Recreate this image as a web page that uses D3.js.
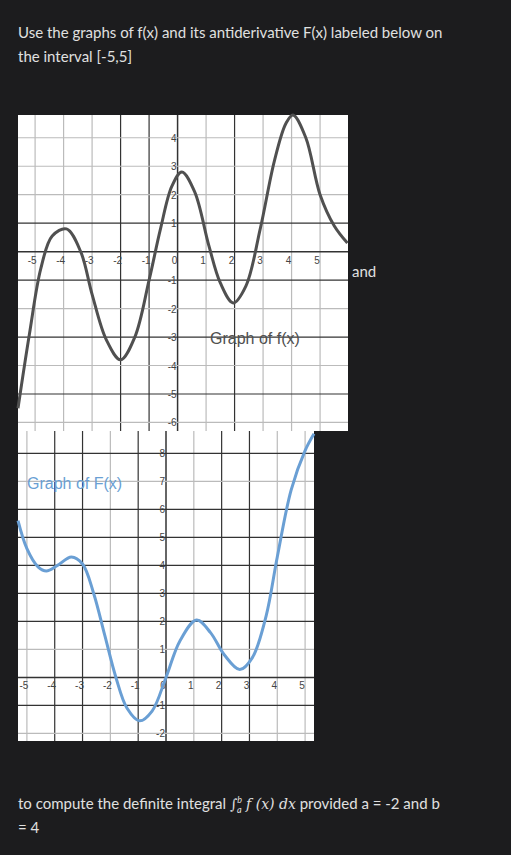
<!DOCTYPE html>
<html><head><meta charset="utf-8">
<script src="https://cdn.jsdelivr.net/npm/d3@7"></script>
<style>
body{margin:0;background:#1c1c1e;}
.t{font-family:Lato,"Open Sans",sans-serif;font-size:15px;fill:#e0e0e0;}
</style></head><body>
<script>
const fPoints=[[-5.6,-5.5],[-5.2,-2.9],[-4.8,-0.6],[-4.4,0.55],[-3.9,0.8],[-3.4,0.0],[-3.0,-1.5],[-2.5,-3.1],[-2.0,-3.8],[-1.5,-3.0],[-1.0,-1.0],[-0.6,0.8],[-0.2,2.3],[0.15,2.8],[0.6,2.1],[1.1,0.2],[1.5,-1.1],[1.95,-1.8],[2.4,-1.2],[2.9,0.8],[3.4,3.2],[3.8,4.5],[4.05,4.8],[4.5,4.0],[5.0,2.0],[5.5,0.9],[5.96,0.3]];
const FPoints=[[-5.32,5.6],[-5,4.6],[-4.6,3.95],[-4.3,3.8],[-3.9,4.0],[-3.4,4.3],[-3,4.05],[-2.6,3.0],[-2.2,1.5],[-1.8,0],[-1.4,-1.1],[-0.95,-1.55],[-0.5,-1.2],[0,0],[0.5,1.3],[1.1,2.05],[1.6,1.6],[2.1,0.8],[2.65,0.28],[3.1,0.7],[3.6,2.2],[4.0,4.3],[4.5,6.7],[5.0,8.1],[5.32,8.7]];
const xTicks1=[-5,-4,-3,-2,-1,0,1,2,3,4,5];
const yTicks1=[4,3,2,1,-1,-2,-3,-4,-5,-6];
const xTicks2=[-5,-4,-3,-2,-1,0,1,2,3,4,5];
const yTicks2=[8,7,6,5,4,3,2,1,-1,-2];

const svg=d3.select("body").append("svg").attr("width",511).attr("height",855);
svg.append("text").attr("class","t").attr("x",18).attr("y",38).text("Use the graphs of  f(x) and its antiderivative F(x) labeled below on");
svg.append("text").attr("class","t").attr("x",18).attr("y",62).text("the interval [-5,5]");
svg.append("text").attr("class","t").attr("x",352).attr("y",277).text("and");
const bt=svg.append("text").attr("class","t").attr("x",18).attr("y",809);
bt.append("tspan").text("to compute the definite integral ");
bt.append("tspan").attr("font-family","DejaVu Serif").attr("font-size",14).text("∫");
bt.append("tspan").attr("font-size",9).attr("dy",-6).attr("font-style","italic").text("b");
bt.append("tspan").attr("font-size",9).attr("dy",10).attr("dx",-5).attr("font-style","italic").text("a");
bt.append("tspan").attr("dy",-4).attr("font-family","DejaVu Serif").attr("font-style","italic").attr("font-size",14).text(" f (x) dx");
bt.append("tspan").text("  provided a = -2 and b");
svg.append("text").attr("class","t").attr("x",18).attr("y",833).text("= 4");

function panel(o){
  const g=svg.append("g");
  const x=d3.scaleLinear().domain(o.xd).range([o.x0,o.x1]);
  const y=d3.scaleLinear().domain(o.yd).range([o.y1,o.y0]);
  g.append("rect").attr("x",o.x0).attr("y",o.y0).attr("width",o.x1-o.x0).attr("height",o.y1-o.y0).attr("fill","#fff");
  const xs=d3.range(Math.ceil(o.xd[0]),Math.floor(o.xd[1])+1);
  const ys=d3.range(Math.ceil(o.yd[0]),Math.floor(o.yd[1])+1);
  g.selectAll(".vx").data(xs).join("line").attr("x1",d=>x(d)).attr("x2",d=>x(d)).attr("y1",o.y0).attr("y2",o.y1)
    .attr("stroke",d=>o.darkX.includes(d)?"#333":"#bbb").attr("stroke-width",d=>d===0?1.5:1.2);
  g.selectAll(".hy").data(ys).join("line").attr("y1",d=>y(d)).attr("y2",d=>y(d)).attr("x1",o.x0).attr("x2",o.x1)
    .attr("stroke",d=>o.darkY.includes(d)?"#333":"#bbb").attr("stroke-width",d=>d===0?1.5:1.2);
  g.selectAll(".xl").data(o.xt).join("text").attr("x",d=>x(d)-3).attr("y",y(0)+12).attr("text-anchor","middle")
    .attr("font-family","Liberation Sans,Arial").attr("font-size",10).attr("fill","#444").text(d=>d);
  g.selectAll(".yl").data(o.yt).join("text").attr("x",x(0)-1).attr("y",d=>y(d)+4).attr("text-anchor","end")
    .attr("font-family","Liberation Sans,Arial").attr("font-size",10).attr("fill","#444").text(d=>d);
  g.append("path").datum(o.pts).attr("fill","none").attr("stroke",o.color).attr("stroke-width",3)
    .attr("d",d3.line().x(d=>x(d[0])).y(d=>y(d[1])).curve(d3.curveCatmullRom));
  g.append("text").attr("x",o.lx).attr("y",o.ly).attr("font-family","Liberation Sans,Arial").attr("font-size",16)
    .attr("fill",o.color).text(o.label);
}
panel({x0:18,x1:348,y0:115,y1:431,xd:[-5.6,5.98],yd:[-6.3,4.8],darkX:[-2,-1,0,2],darkY:[1,-1,-3,-5,0],
  xt:xTicks1,yt:yTicks1,pts:fPoints,color:"#505050",label:"Graph of f(x)",lx:210,ly:344});
panel({x0:18,x1:314,y0:431,y1:741,xd:[-5.32,5.32],yd:[-2.27,8.8],darkX:[-4,-3,-1,0,2,3],darkY:[8,6,5,4,3,2,0,-1],
  xt:xTicks2,yt:yTicks2,pts:FPoints,color:"#6a9fd4",label:"Graph of F(x)",lx:27,ly:489});
</script></body></html>
